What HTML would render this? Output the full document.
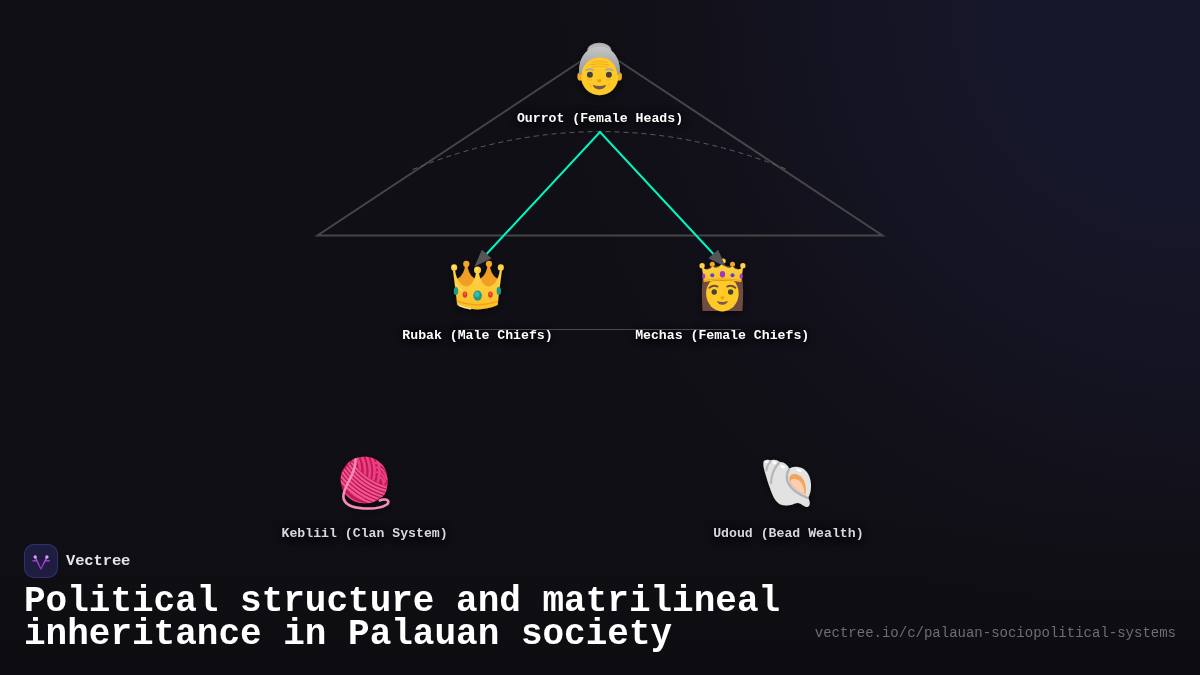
<!DOCTYPE html>
<html lang="en">
<head>
<meta charset="utf-8">
<title>Political structure and matrilineal inheritance in Palauan society</title>
<style>
*{margin:0;padding:0;box-sizing:border-box}
html,body{width:1200px;height:675px;overflow:hidden;background:#0f0e14}
.wrap{position:absolute;left:0;top:0;width:1200px;height:675px;will-change:transform}
body{font-family:"Liberation Mono","DejaVu Sans Mono",monospace;color:#fff;position:relative}
.bg{position:absolute;left:0;top:0;width:1200px;height:675px;
 background:
  linear-gradient(to bottom, rgba(12,12,16,0) 0px, rgba(12,12,16,0) 500px, rgba(12,12,16,.8) 675px),
  radial-gradient(circle 640px at 1200px 0px, #17172b 0%, #17172b 30%, rgba(23,23,43,.55) 60%, rgba(23,23,43,.18) 82%, rgba(23,23,43,0) 100%),
  #100f15;}
svg.dia{position:absolute;left:0;top:0;width:1200px;height:675px;overflow:visible}
.lbl{position:absolute;transform:translateX(-50%);white-space:nowrap;font-weight:bold;font-size:13.2px;line-height:16px;color:#fff;
 text-shadow:0 1px 4px rgba(0,0,0,.8),0 0 8px rgba(6,6,10,.55)}
.lbl.dim{color:#d8d8dc}
.hl{position:absolute;left:456px;top:329px;width:285px;height:1px;background:linear-gradient(to right,rgba(74,74,76,0) 0px,rgba(74,74,76,.7) 14px,#4a4a4c 50px,#4a4a4c 100%)}
.brand{position:absolute;left:24px;top:544px;height:34px;display:flex;align-items:center}
.logo{width:34px;height:34px;border-radius:10px;background:#1e1d40;box-shadow:inset 0 0 0 1px #322f72;display:block}
.brand span{margin-left:8px;font-weight:bold;font-size:15.5px;letter-spacing:-.12px;color:#e4e4e8}
h1{position:absolute;left:24px;top:585px;font-size:36px;line-height:33px;font-weight:bold;color:#fff;white-space:nowrap;letter-spacing:0}
.url{position:absolute;right:24px;top:625px;font-size:14px;line-height:16px;color:#6d6d73;white-space:nowrap}
</style>
</head>
<body>
<div class="wrap">
<div class="bg"></div>
<svg class="dia" viewBox="0 0 1200 675">
 <polygon points="600,48.5 882.5,235.5 317.5,235.5" fill="none" stroke="#464647" stroke-width="2" stroke-linejoin="miter"/>
 <path d="M412.5 169.6 Q600 93.6 787.5 169.6" fill="none" stroke="#5a5a5e" stroke-width="1" stroke-dasharray="5 4"/>
 
 <defs>
  <linearGradient id="hairg" x1="0" y1="0" x2="0" y2="1"><stop offset="0" stop-color="#c4c4c4"/><stop offset="1" stop-color="#9a9a9a"/></linearGradient>
  <linearGradient id="gold" x1="0" y1="0" x2="0" y2="1"><stop offset="0" stop-color="#ffd54a"/><stop offset="1" stop-color="#fbbf24"/></linearGradient>
  <radialGradient id="yarng" cx=".45" cy=".4" r=".6"><stop offset="0" stop-color="#f0457f"/><stop offset="1" stop-color="#dc2168"/></radialGradient>
  <filter id="ds" x="-30%" y="-30%" width="160%" height="160%"><feDropShadow dx="0" dy="2" stdDeviation="4" flood-color="#000" flood-opacity=".55"/></filter>
 </defs>
 <!-- old woman -->
 <g filter="url(#ds)" role="img" aria-label="👵">
  <ellipse cx="599.3" cy="50.2" rx="12" ry="7.5" fill="#a2a2a2"/>
  <ellipse cx="599.3" cy="48.4" rx="10.4" ry="4.6" fill="#b7b7b7"/>
  <path d="M579.3 75 C578 58 586.6 46.8 599.5 46.8 C612.4 46.8 621 58 619.7 75 Z" fill="url(#hairg)"/>
  <ellipse cx="580.6" cy="76.4" rx="3.2" ry="4.2" fill="#f8ab18"/>
  <ellipse cx="618.8" cy="76.4" rx="3.2" ry="4.2" fill="#f8ab18"/>
  <ellipse cx="599.7" cy="76.3" rx="18.7" ry="18.9" fill="#ffc928"/>
  <path d="M579.3 75 C578 58 586.6 46.8 599.5 46.8 C612.4 46.8 621 58 619.7 75 L617.3 74.8 C616.8 68 613.8 62.8 609.2 59.6 C606.2 57.6 602.6 56.5 599.3 56.2 C596 56.5 592.4 57.6 589.4 59.6 C584.8 62.8 581.8 68 581.6 74.8 Z" fill="url(#hairg)"/>
  <path d="M591.6 62.3 Q599.4 60.2 607.2 62.3 M590 64.8 Q599.4 62.6 608.8 64.8 M591.4 67 Q599.4 65.2 607.4 67" fill="none" stroke="#f0ac1c" stroke-width=".9" stroke-linecap="round"/>
  <path d="M586 70.3 Q589.4 68.2 593 69.9" fill="none" stroke="#a6a6a6" stroke-width="1.7" stroke-linecap="round"/>
  <path d="M605.8 69.9 Q609.4 68.2 612.8 70.3" fill="none" stroke="#a6a6a6" stroke-width="1.7" stroke-linecap="round"/>
  <circle cx="589.9" cy="74.8" r="3" fill="#43413f"/>
  <circle cx="608.9" cy="74.8" r="3" fill="#43413f"/>
  <path d="M596.9 79.7 Q599.3 78.9 601.7 79.7 Q600.9 82.6 599.3 82.6 Q597.7 82.6 596.9 79.7 Z" fill="#ee980a"/>
  <path d="M592.8 84.8 Q599.4 87.4 606 84.8 Q604.8 89.4 599.4 89.4 Q594 89.4 592.8 84.8 Z" fill="#7a564c"/>
  <path d="M587.6 79.4 Q589.8 80.6 592 80 M606.8 80 Q609 80.6 611.2 79.4 M588.6 83.6 Q590.6 84.4 591.4 86.6 M610.2 83.6 Q608.2 84.4 607.4 86.6" fill="none" stroke="#f0ac1c" stroke-width=".85" stroke-linecap="round"/>
 </g>
 <!-- crown -->
 <g filter="url(#ds)" role="img" aria-label="👑">
  <path d="M456.6 279 C461 277.4 464.4 272 465 266.4 L467.6 266.4 C468.2 272 471.4 277.4 476 279 L476 290 L456.6 290 Z" fill="#f09e27"/>
  <path d="M479 279 C483.6 277.4 486.8 272 487.4 266.4 L490 266.4 C490.6 272 494 277.4 498.4 279 L498.4 290 L479 290 Z" fill="#f09e27"/>
  <path d="M452.9 270 C454.4 281 456 293 457.2 305 Q477.4 313.8 497.7 305 C498.9 293 500.5 281 502 270 L499.8 270.6 C498.8 279 494.2 286.3 488.7 286.5 C483.5 286.3 479.7 279.4 478.8 272.4 L476.1 272.4 C475.2 279.4 471.4 286.3 466.2 286.5 C460.7 286.3 456.1 279 455.1 270.6 Z" fill="url(#gold)"/>
  <path d="M457 301.2 Q477.4 308.6 497.9 301.2" fill="none" stroke="#f0a21e" stroke-width="1.3"/>
  <path d="M459.4 305.6 Q464.6 308 470.4 308.8" fill="none" stroke="#fff6c4" stroke-width="1.5" stroke-linecap="round" opacity=".85"/>
  <path d="M455.6 283 Q458 289 463 291" fill="none" stroke="#ffe680" stroke-width="1.1" stroke-linecap="round" opacity=".7"/>
  <ellipse cx="454.1" cy="267.5" rx="3" ry="3.3" fill="#ffd348"/>
  <ellipse cx="500.8" cy="267.5" rx="3" ry="3.3" fill="#ffd348"/>
  <circle cx="466.3" cy="263.9" r="3.1" fill="#f5a52b"/>
  <circle cx="489" cy="263.9" r="3.1" fill="#f5a52b"/>
  <circle cx="477.5" cy="269.9" r="3.5" fill="#ffcf3e"/>
  <circle cx="453.5" cy="266.6" r="1.3" fill="#ffe98a"/>
  <circle cx="476.8" cy="268.9" r="1.4" fill="#ffe98a"/>
  <ellipse cx="477.6" cy="295.6" rx="4.3" ry="5.1" fill="#1d9a8a"/>
  <ellipse cx="477" cy="294.2" rx="2.4" ry="2.8" fill="#46c4b0" opacity=".75"/>
  <ellipse cx="465" cy="294.6" rx="2.3" ry="3.2" fill="#e4382e"/>
  <ellipse cx="490.4" cy="294.6" rx="2.3" ry="3.2" fill="#e4382e"/>
  <ellipse cx="464.7" cy="293.8" rx="1" ry="1.5" fill="#f4675c" opacity=".8"/>
  <ellipse cx="490.1" cy="293.8" rx="1" ry="1.5" fill="#f4675c" opacity=".8"/>
  <ellipse cx="456" cy="291" rx="2.2" ry="4" fill="#1d9a8a"/>
  <ellipse cx="498.8" cy="291" rx="2.2" ry="4" fill="#1d9a8a"/>
 </g>
 <!-- princess -->
 <g filter="url(#ds)" role="img" aria-label="👸">
  <path d="M702.6 311 C701.6 296 701.4 282 704 272 C708 263.6 737 263.6 741 272 C743.6 282 743.4 296 742.4 311 Z" fill="#6f4b41"/>
  <ellipse cx="722.4" cy="293.4" rx="16.3" ry="18" fill="#ffc928"/>
  <path d="M704 283 C710 279.6 735 279.6 741 283 L741 272 L704 272 Z" fill="#6f4b41"/>
  <path d="M709.4 287.8 Q713.4 284.4 717.6 286.6" fill="none" stroke="#6f4b41" stroke-width="1.8" stroke-linecap="round"/>
  <path d="M727.2 286.6 Q731.4 284.4 735.4 287.8" fill="none" stroke="#6f4b41" stroke-width="1.8" stroke-linecap="round"/>
  <circle cx="714.2" cy="292" r="2.7" fill="#43413f"/>
  <circle cx="730.6" cy="292" r="2.7" fill="#43413f"/>
  <path d="M720.2 296.8 Q722.4 296 724.6 296.8 Q723.8 299.4 722.4 299.4 Q721 299.4 720.2 296.8 Z" fill="#ee980a"/>
  <path d="M717 301 Q722.4 303 727.9 301 Q726.6 304.8 722.4 304.8 Q718.2 304.8 717 301 Z" fill="#7a564c"/>
  <path d="M701.8 266.6 C702.6 271.6 703.4 277 703.8 282 Q722.5 278.6 741.2 282 C741.6 277 742.4 271.6 743.2 266.6 C739.6 270.4 735.6 270.8 732.4 266 C729.4 269.4 725.6 268 722.5 262.4 C719.4 268 715.6 269.4 712.6 266 C709.4 270.8 705.4 270.4 701.8 266.6 Z" fill="url(#gold)"/>
  <path d="M703.8 280.6 Q722.5 277.2 741.2 280.6" fill="none" stroke="#f2a41c" stroke-width="1"/>
  <circle cx="702.1" cy="265.7" r="2.6" fill="#ffd348"/>
  <circle cx="742.9" cy="265.7" r="2.6" fill="#ffd348"/>
  <circle cx="712.3" cy="264.2" r="2.5" fill="#f5a62b"/>
  <circle cx="732.5" cy="264.2" r="2.5" fill="#f5a62b"/>
  <circle cx="723.2" cy="261" r="2.5" fill="#ffcf3e"/>
  <ellipse cx="722.5" cy="274.3" rx="2.6" ry="3.2" fill="#9c35c8"/>
  <circle cx="712.3" cy="275.2" r="2" fill="#4a4ae0"/>
  <circle cx="732.5" cy="275.2" r="2" fill="#4a4ae0"/>
  <ellipse cx="703.7" cy="276.2" rx="1.6" ry="2.6" fill="#a23fc6"/>
  <ellipse cx="741.2" cy="276.2" rx="1.6" ry="2.6" fill="#a23fc6"/>
 </g>

 <!-- yarn -->
 <g filter="url(#ds)" role="img" aria-label="🧶">
  <clipPath id="yc"><path d="M364 456.8 C376 456.6 386.4 465 387.2 477 C388.4 480 388.2 484 386.6 487 C387 492 383.6 497 379 498.6 C375 502.6 368 504 362 503 C350 502.4 340.8 492 340.8 480 C340.8 467 351 457 364 456.8 Z"/></clipPath>
  <path d="M364 456.8 C376 456.6 386.4 465 387.2 477 C388.4 480 388.2 484 386.6 487 C387 492 383.6 497 379 498.6 C375 502.6 368 504 362 503 C350 502.4 340.8 492 340.8 480 C340.8 467 351 457 364 456.8 Z" fill="#c4185a"/>
  <g clip-path="url(#yc)" fill="none" stroke="#ea4280" stroke-width="2.7" stroke-linecap="round">
   <path d="M371.6 456.6 C375.6 466 375.6 474 372.4 483 M376.4 457.4 C380.4 466 380.6 474 377.4 483 M366.8 456.4 C370.8 466 370.8 476 367.4 484 M362 456.6 C366 466 366 476 362.4 485 M357.4 457.6 C361 467 361 476 357.6 485 M352.8 459.4 C356 468 356 476 353 485 M348.6 462 C351 469 351 476 349 484"/>
   <path d="M373.4 463.4 C380.4 461.6 386.6 467.6 388.6 476 M375.2 467.8 C381.2 466.4 385.2 471.6 386.8 479 M376.6 472.2 C381.2 471.4 384.2 475.6 385.2 482 M378.2 476.8 C381.2 476.8 383.2 480.4 383.8 485" stroke-width="1.9"/>
   <path d="M340.6 487.6 C345.6 496 353.6 502 364 504 M344.6 483.6 C349.6 492.8 357.6 499 368 500.6 M349.2 480.6 C353.6 488.8 360.6 494.6 371 496 M342.6 493.4 C347.6 500 354.6 504.6 362 505.4" stroke-width="1.9"/>
   <path d="M384.4 489 C382.4 496 376.4 501 369 503 M387 485 C385.6 490 383.6 494 380.6 497" stroke-width="1.9"/>
  </g>
  <g clip-path="url(#yc)">
   <path d="M337 476 L352.6 461 C362 475 374 483 390 487 L384 508 C364 503 348 494 337 476 Z" fill="#bf1757"/>
   <g fill="none" stroke="#f0598f" stroke-width="2.05" stroke-linecap="round">
    <path d="M351.9 463.0 C361.2 476.0 373.2 484.0 388.2 488.0"/>
    <path d="M349.5 465.3 C359.1 478.6 371.9 487.1 387.2 491.2"/>
    <path d="M347.1 467.7 C357.0 481.2 370.5 490.2 386.2 494.4"/>
    <path d="M344.7 470.0 C355.0 483.8 369.2 493.2 385.2 497.5"/>
    <path d="M342.3 472.4 C352.9 486.5 367.8 496.3 384.2 500.7"/>
    <path d="M339.8 474.7 C350.8 489.1 366.5 499.4 383.2 503.9"/>
    <path d="M337.4 477.1 C348.7 491.7 365.2 502.5 382.2 507.1"/>
   </g>
  </g>
  <path d="M355.6 459.2 C356 466 352.5 474.5 348.2 482.5 C345 488.5 342.4 493.6 343.6 498.6 C345.2 505 353.5 507.8 364 508.4 C373 509 381.5 507.6 386 505 C389.4 503 389 500.2 385.6 499.6 C383.6 499.2 381.6 499.6 379.8 500.4" fill="none" stroke="#f68db3" stroke-width="2.5" stroke-linecap="round" stroke-linejoin="round"/>
 </g>
 <!-- shell -->
 <g filter="url(#ds)" role="img" aria-label="🐚">
  <path d="M763.6 461.6 C764.6 459.4 768.4 459 770.6 460.6 C773 459.2 777.4 459.8 779.4 462 C783.4 461.6 787.6 464.6 789.4 468.8 C791.6 466.8 796 466.2 800.2 467.4 C806.4 469 810.4 475.6 811 484 C811.4 489.6 810 494.4 808.2 497.8 C809.4 500.4 810.2 502.6 809.6 504.4 C808.8 506.8 806.8 507.4 805 506.6 C802.6 505.4 800.6 503.4 798.2 503 C795.6 502.6 793.6 504.2 790.6 505 C786.4 506 781.6 505.6 778.2 503 C774.6 500.2 772.6 495.4 770.8 490.6 C768.6 484.6 766.6 478.6 765 472.6 C763.9 468.6 762.8 464.4 763.6 461.6 Z" fill="#e2e2e2"/>
  <path d="M770.6 461 C768 464 766.6 467 766.4 470.6" fill="none" stroke="#b8b8b8" stroke-width="2" stroke-linecap="round"/>
  <path d="M779 462.6 C774 468.6 771.2 475.6 771 483" fill="none" stroke="#b8b8b8" stroke-width="2.4" stroke-linecap="round"/>
  <path d="M789 469.2 C786.4 473.6 786 478.6 788.4 483.4 C791.6 489.8 799 494.4 807.4 497.8" fill="none" stroke="#b4b4b4" stroke-width="2.4" stroke-linecap="round"/>
  <path d="M789.6 476.6 C791.6 473.6 795.6 473.4 799.4 475.6 C804.4 478.6 806.8 486 805.6 494.6 C800.6 492.6 794.6 489 791.4 484.6 C789.6 482 788.8 479.2 789.6 476.6 Z" fill="#f1a558"/>
  <path d="M790.6 480.4 C792.6 478.4 796 478.4 799 480.6 C802.6 483.4 804.6 488.4 804.4 493.8 C799.6 491.8 794.8 488.6 792.2 485 C791 483.4 790.4 481.8 790.6 480.4 Z" fill="#ffcdb0"/>
  <g fill="#ffffff" opacity=".9">
   <ellipse cx="766.6" cy="462" rx="2" ry="1.3"/>
   <ellipse cx="774.4" cy="462.8" rx="2.2" ry="1.3" transform="rotate(15 774.4 462.8)"/>
   <ellipse cx="782.6" cy="466.6" rx="2.6" ry="1.5" transform="rotate(30 782.6 466.6)"/>
   <ellipse cx="799" cy="470.2" rx="3" ry="1.4" transform="rotate(20 799 470.2)"/>
  </g>
 </g>
<g id="edges">
 <path d="M486.6 254 L600 132 L713.4 254" fill="none" stroke="#00f5c2" stroke-width="2" stroke-linejoin="miter"/>
 <polygon points="474.4,266.8 481.9,249.7 491.6,258.3" fill="#555557"/>
 <polygon points="725.6,266.8 718.1,249.7 708.4,258.3" fill="#555557"/>
 </g>
</svg>
<div class="lbl" style="left:600px;top:111px">Ourrot (Female Heads)</div>
<div class="lbl" style="left:477.5px;top:328px">Rubak (Male Chiefs)</div>
<div class="lbl" style="left:722.2px;top:328px">Mechas (Female Chiefs)</div>
<div class="lbl dim" style="left:364.6px;top:526px">Kebliil (Clan System)</div>
<div class="lbl dim" style="left:788.4px;top:526px">Udoud (Bead Wealth)</div>
<div class="hl"></div>
<div class="brand"><svg class="logo" viewBox="0 0 34 34"><defs><linearGradient id="lg" x1="0" y1="0" x2="0" y2="1"><stop offset="0" stop-color="#c64cf0"/><stop offset="1" stop-color="#8f2bc4"/></linearGradient></defs><path d="M11.3 13.4 L16.85 25 L22.8 13.4 M9 16.8 L12.6 16.8 M21.2 16.8 L25.4 16.8" fill="none" stroke="url(#lg)" stroke-width="1.35" stroke-linecap="round" stroke-linejoin="round"/><circle cx="11.2" cy="13" r="1.7" fill="#dca0f2"/><circle cx="22.9" cy="13" r="1.7" fill="#dca0f2"/></svg><span>Vectree</span></div>
<h1>Political structure and matrilineal<br>inheritance in Palauan society</h1>
<div class="url">vectree.io/c/palauan-sociopolitical-systems</div>
</div>
</body>
</html>
